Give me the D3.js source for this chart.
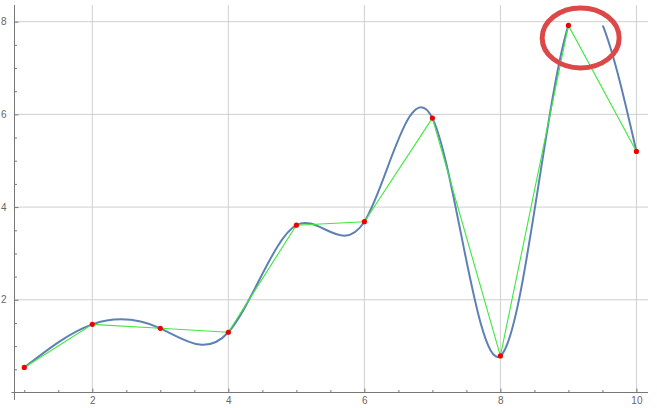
<!DOCTYPE html>
<html>
<head>
<meta charset="utf-8">
<script src="https://cdn.jsdelivr.net/npm/d3@7"></script>
<style>
  html, body { margin: 0; padding: 0; background: #fff; }
  svg { display: block; font-family: 'DejaVu Sans', sans-serif; }
  .grid line { stroke: #cfcfcf; stroke-width: 1; }
  .axis path { display: none; }
  .axis line { stroke: #777; }
  .axis text { fill: #666; font-size: 10px; }
</style>
</head>
<body>
<svg id="chart" width="657" height="408"></svg>
<script>
// data
const xValues = [1, 2, 3, 4, 5, 6, 7, 8, 9, 10];
const yValues = [0.54, 1.47, 1.385, 1.30, 3.61, 3.685, 5.92, 0.79, 7.92, 5.20];
const xMajorTicks = [2, 4, 6, 8, 10];
const yMajorTicks = [2, 4, 6, 8];
const xMinorTicks = [1, 1.5, 2.5, 3, 3.5, 4.5, 5, 5.5, 6.5, 7, 7.5, 8.5, 9, 9.5];
const yMinorTicks = [0.5, 1, 1.5, 2.5, 3, 3.5, 4.5, 5, 5.5, 6.5, 7, 7.5];
// highlighted region (centre and radii in data units)
const highlight = { cx: 9.18, cy: 7.65, rx: 0.566, ry: 0.647 };

const points = xValues.map((x, i) => ({ x: x, y: yValues[i] }));

const svg = d3.select('#chart');
const width = +svg.attr('width');
const height = +svg.attr('height');

const x = d3.scaleLinear().domain([0.856, 10.17]).range([14.5, 648]);
const y = d3.scaleLinear().domain([0, 8.36]).range([392.5, 5]);

// grid
const grid = svg.append('g').attr('class', 'grid');
grid.selectAll('.vgrid')
  .data(xMajorTicks)
  .enter().append('line')
  .attr('x1', d => x(d)).attr('x2', d => x(d))
  .attr('y1', y.range()[1]).attr('y2', y(0));
grid.selectAll('.hgrid')
  .data(yMajorTicks)
  .enter().append('line')
  .attr('x1', x.range()[0]).attr('x2', x.range()[1])
  .attr('y1', d => y(d)).attr('y2', d => y(d));

// axes
svg.append('line')
  .attr('x1', x.range()[0] - 3).attr('x2', x.range()[1])
  .attr('y1', y(0)).attr('y2', y(0))
  .attr('stroke', '#777');
svg.append('line')
  .attr('x1', x.range()[0]).attr('x2', x.range()[0])
  .attr('y1', y.range()[1]).attr('y2', y(-0.16))
  .attr('stroke', '#777');

svg.append('g')
  .attr('class', 'axis axis--x')
  .attr('transform', `translate(0,${y(0)})`)
  .call(d3.axisBottom(x).tickValues(xMajorTicks).tickSize(-4).tickPadding(6));
svg.append('g')
  .attr('class', 'axis axis--x-minor')
  .attr('transform', `translate(0,${y(0)})`)
  .call(d3.axisBottom(x).tickValues(xMinorTicks).tickSize(-2.5).tickFormat(''));

svg.append('g')
  .attr('class', 'axis axis--y')
  .attr('transform', `translate(${x.range()[0]},0)`)
  .call(d3.axisLeft(y).tickValues(yMajorTicks).tickSize(-4).tickPadding(8));
svg.append('g')
  .attr('class', 'axis axis--y-minor')
  .attr('transform', `translate(${x.range()[0]},0)`)
  .call(d3.axisLeft(y).tickValues(yMinorTicks).tickSize(-2.5).tickFormat(''));

svg.selectAll('.axis--x text').attr('dy', '0.55em');

// the smooth curve is cut off above the highest sample
svg.append('clipPath')
  .attr('id', 'curve-clip')
  .append('rect')
  .attr('x', x.range()[0])
  .attr('y', y(d3.max(yValues)))
  .attr('width', x.range()[1] - x.range()[0])
  .attr('height', y(0) - y(d3.max(yValues)) + 20);

const smooth = d3.line()
  .x(d => x(d.x))
  .y(d => y(d.y))
  .curve(d3.curveNatural);

svg.append('path')
  .datum(points)
  .attr('clip-path', 'url(#curve-clip)')
  .attr('fill', 'none')
  .attr('stroke', '#5e81b5')
  .attr('stroke-width', 2)
  .attr('d', smooth);

const straight = d3.line()
  .x(d => x(d.x))
  .y(d => y(d.y));

svg.append('path')
  .datum(points)
  .attr('fill', 'none')
  .attr('stroke', '#3ee83e')
  .attr('stroke-width', 1.1)
  .attr('d', straight);

svg.selectAll('.dot')
  .data(points)
  .enter().append('circle')
  .attr('class', 'dot')
  .attr('cx', d => x(d.x))
  .attr('cy', d => y(d.y))
  .attr('r', 2.6)
  .attr('fill', '#f00000');

svg.append('ellipse')
  .attr('cx', x(highlight.cx))
  .attr('cy', y(highlight.cy))
  .attr('rx', x(highlight.cx + highlight.rx) - x(highlight.cx))
  .attr('ry', y(highlight.cy - highlight.ry) - y(highlight.cy))
  .attr('fill', 'none')
  .attr('stroke', '#dc4848')
  .attr('stroke-width', 5);
</script>
</body>
</html>
